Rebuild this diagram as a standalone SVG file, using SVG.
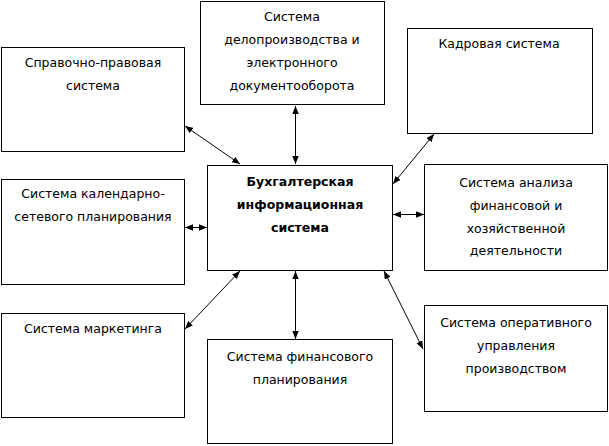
<svg xmlns="http://www.w3.org/2000/svg" width="609" height="446" viewBox="0 0 609 446">
<defs>
<marker id="ah" viewBox="0 0 10 8" refX="10" refY="4" markerWidth="8" markerHeight="6.4" markerUnits="userSpaceOnUse" orient="auto-start-reverse">
<path d="M0,0 L10,4 L0,8 Z" fill="#000"/>
</marker>
</defs>
<style>
rect{fill:#fff;stroke:#000;stroke-width:1}
text{font-family:"DejaVu Sans","Liberation Sans",sans-serif;font-size:12.5px;fill:#000;text-anchor:middle}
.b{font-weight:bold}
#connectors line{stroke:#000;stroke-width:1;marker-start:url(#ah);marker-end:url(#ah)}
</style>
<rect x="0" y="0" width="609" height="446" style="fill:#fff;stroke:none"/>
<g id="n-spravochno">
<rect x="1.5" y="47.5" width="183" height="104"/>
<text x="93" y="67">Справочно-правовая</text>
<text x="93" y="90">система</text>
</g>
<g id="n-deloproizvodstvo">
<rect x="200.5" y="1.5" width="184" height="103"/>
<text x="292" y="21">Система</text>
<text x="292" y="44">делопроизводства и</text>
<text x="292" y="67">электронного</text>
<text x="292" y="90">документооборота</text>
</g>
<g id="n-kadrovaya">
<rect x="407.5" y="28.5" width="185" height="105"/>
<text x="499" y="48">Кадровая система</text>
</g>
<g id="n-kalendar">
<rect x="1.5" y="179.5" width="183" height="105"/>
<text x="93" y="198">Система календарно-</text>
<text x="93" y="221">сетевого планирования</text>
</g>
<g id="n-buh">
<rect x="207.5" y="165.5" width="185" height="105"/>
<text class="b" x="300" y="186">Бухгалтерская</text>
<text class="b" x="300" y="209">информационная</text>
<text class="b" x="300" y="232">система</text>
</g>
<g id="n-analiz">
<rect x="424.5" y="164.5" width="183" height="106"/>
<text x="516" y="187">Система анализа</text>
<text x="516" y="210">финансовой и</text>
<text x="516" y="233">хозяйственной</text>
<text x="516" y="255">деятельности</text>
</g>
<g id="n-marketing">
<rect x="1.5" y="313.5" width="183" height="104"/>
<text x="93" y="333">Система маркетинга</text>
</g>
<g id="n-finplan">
<rect x="207.5" y="339.5" width="185" height="104"/>
<text x="300" y="361">Система финансового</text>
<text x="300" y="384">планирования</text>
</g>
<g id="n-operativ">
<rect x="424.5" y="305.5" width="183" height="106"/>
<text x="516" y="327">Система оперативного</text>
<text x="516" y="350">управления</text>
<text x="516" y="373">производством</text>
</g>
<g id="connectors">
<line x1="185" y1="126" x2="240" y2="164"/>
<line x1="295.5" y1="106" x2="295.5" y2="164"/>
<line x1="434" y1="134" x2="393" y2="184"/>
<line x1="185" y1="227.5" x2="207" y2="227.5"/>
<line x1="393" y1="214.5" x2="424" y2="214.5"/>
<line x1="240" y1="271" x2="185" y2="329"/>
<line x1="295.5" y1="271" x2="295.5" y2="339"/>
<line x1="384" y1="271" x2="423" y2="349"/>
</g>
</svg>
